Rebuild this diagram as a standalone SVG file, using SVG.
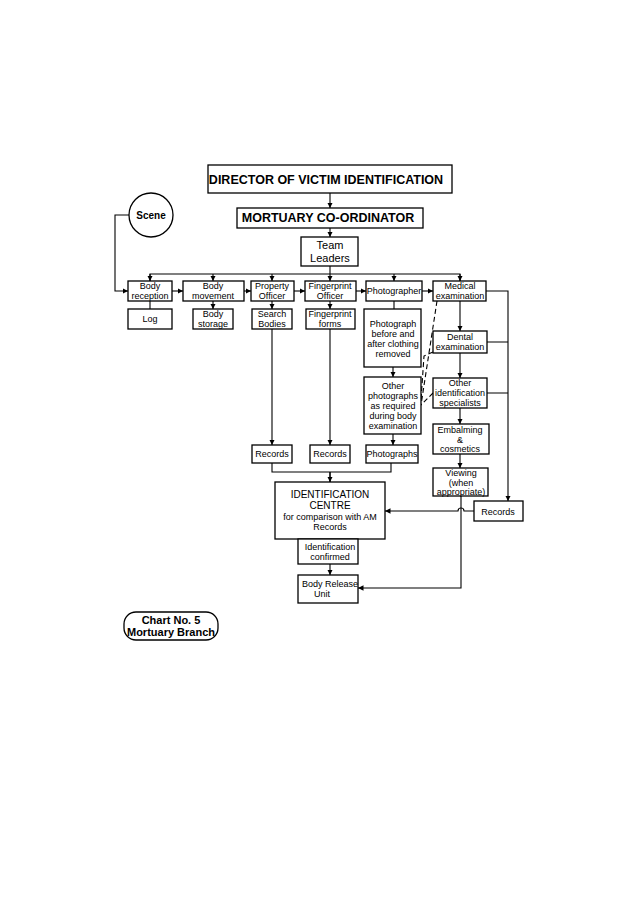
<svg xmlns="http://www.w3.org/2000/svg" width="638" height="903" viewBox="0 0 638 903">
<style>
rect,circle{fill:#fff;stroke:#000;stroke-width:1.3}
text{font-family:"Liberation Sans",Arial,sans-serif;font-size:9px;text-anchor:middle}
.b{font-weight:bold}
#c path,#c line{fill:none;stroke:#000;stroke-width:1.1}
.d{stroke-dasharray:5,3}
</style>
<defs><marker id="a" viewBox="0 0 6 6" refX="6" refY="3" markerWidth="5" markerHeight="5" orient="auto"><path d="M0,0L6,3L0,6z"/></marker></defs>
<rect width="638" height="903" style="fill:#fff;stroke:none"/>
<g id="c" >
<line x1="330" y1="193" x2="330" y2="208" marker-start="url(#a)" marker-end="url(#a)"/>
<line x1="330" y1="228" x2="330" y2="237" marker-end="url(#a)"/>
<line x1="330" y1="266" x2="330" y2="281" marker-start="url(#a)" marker-end="url(#a)"/>
<path d="M150,281V274H460V281"/>
<line x1="150" y1="274" x2="150" y2="281" marker-end="url(#a)"/>
<line x1="213" y1="274" x2="213" y2="281" marker-end="url(#a)"/>
<line x1="272" y1="274" x2="272" y2="281" marker-end="url(#a)"/>
<line x1="394" y1="274" x2="394" y2="281" marker-end="url(#a)"/>
<line x1="460" y1="274" x2="460" y2="281" marker-end="url(#a)"/>
<path d="M129,215H115V291H128" marker-end="url(#a)"/>
<line x1="172" y1="291" x2="183" y2="291" marker-end="url(#a)"/>
<line x1="244" y1="291" x2="251" y2="291" marker-end="url(#a)"/>
<line x1="294" y1="291" x2="305" y2="291" marker-end="url(#a)"/>
<line x1="356" y1="291" x2="366" y2="291" marker-end="url(#a)"/>
<line x1="422" y1="291" x2="433" y2="291" marker-end="url(#a)"/>
<line x1="150" y1="301" x2="150" y2="309"/>
<line x1="213" y1="301" x2="213" y2="309" marker-start="url(#a)" marker-end="url(#a)"/>
<line x1="272" y1="301" x2="272" y2="309" marker-start="url(#a)" marker-end="url(#a)"/>
<line x1="330" y1="301" x2="330" y2="309" marker-end="url(#a)"/>
<line x1="394" y1="301" x2="394" y2="309" marker-start="url(#a)"/>
<line x1="272" y1="329" x2="272" y2="445" marker-end="url(#a)"/>
<line x1="330" y1="329" x2="330" y2="445" marker-end="url(#a)"/>
<line x1="393" y1="367" x2="393" y2="377" marker-end="url(#a)"/>
<line x1="393" y1="434" x2="393" y2="445" marker-end="url(#a)"/>
<path d="M272,463V472H391V463M330,472V482" />
<line x1="330" y1="472" x2="330" y2="482" marker-end="url(#a)"/>
<line x1="460" y1="301" x2="460" y2="331" marker-end="url(#a)"/>
<line x1="460" y1="353" x2="460" y2="378" marker-end="url(#a)"/>
<line x1="460" y1="408" x2="460" y2="424" marker-end="url(#a)"/>
<line x1="460" y1="454" x2="460" y2="468" marker-end="url(#a)"/>
<path d="M486,291H508V501" marker-end="url(#a)"/>
<path d="M487,342H508M487,393H508"/>
<path d="M474,511H464a3,3 0 0 0 -6,0H385" marker-end="url(#a)"/>
<path d="M461,496V588H358" marker-end="url(#a)"/>
<line x1="330" y1="564" x2="330" y2="575" marker-end="url(#a)"/>
<path class="d" d="M437,301L421,405"/>
<path class="d" d="M433,352L424,356L421,400"/>
<path class="d" d="M433,393L421,405"/>
</g>
<g id="director"><rect x="208" y="165" width="244" height="28"/><text class="b" x="326" y="184" style="font-size:12.5px">DIRECTOR OF VICTIM IDENTIFICATION</text></g>
<g id="coord"><rect x="237" y="208" width="186" height="20"/><text class="b" x="328" y="222" style="font-size:12.5px">MORTUARY CO-ORDINATOR</text></g>
<g id="team"><rect x="301" y="237" width="57" height="29"/><text x="330" y="249" style="font-size:11px">Team</text><text x="330" y="262" style="font-size:11px">Leaders</text></g>
<g id="scene"><circle cx="151" cy="215" r="22"/><text class="b" x="151" y="219" style="font-size:10px">Scene</text></g>
<g id="reception"><rect x="128" y="281" width="44" height="20"/><text x="150" y="289">Body</text><text x="150" y="299">reception</text></g>
<g id="movement"><rect x="183" y="281" width="61" height="20"/><text x="213" y="289">Body</text><text x="213" y="299">movement</text></g>
<g id="property"><rect x="251" y="281" width="43" height="20"/><text x="272" y="289">Property</text><text x="272" y="299">Officer</text></g>
<g id="fingerprint"><rect x="305" y="281" width="51" height="20"/><text x="330" y="289">Fingerprint</text><text x="330" y="299">Officer</text></g>
<g id="photographer"><rect x="366" y="281" width="56" height="20"/><text x="394" y="294">Photographer</text></g>
<g id="medical"><rect x="433" y="281" width="53" height="20"/><text x="460" y="289">Medical</text><text x="460" y="299">examination</text></g>
<g id="log"><rect x="128" y="309" width="44" height="20"/><text x="150" y="322">Log</text></g>
<g id="storage"><rect x="193" y="309" width="40" height="20"/><text x="213" y="317">Body</text><text x="213" y="327">storage</text></g>
<g id="search"><rect x="252" y="309" width="40" height="20"/><text x="272" y="317">Search</text><text x="272" y="327">Bodies</text></g>
<g id="fpforms"><rect x="306" y="309" width="49" height="20"/><text x="330" y="317">Fingerprint</text><text x="330" y="327">forms</text></g>
<g id="photo1"><rect x="364" y="309" width="57" height="58"/><text x="393" y="327">Photograph</text><text x="393" y="337">before and</text><text x="393" y="347">after clothing</text><text x="393" y="357">removed</text></g>
<g id="photo2"><rect x="364" y="377" width="57" height="57"/><text x="393" y="389">Other</text><text x="393" y="399">photographs</text><text x="393" y="409">as required</text><text x="393" y="419">during body</text><text x="393" y="429">examination</text></g>
<g id="rec1"><rect x="252" y="445" width="40" height="18"/><text x="272" y="457">Records</text></g>
<g id="rec2"><rect x="310" y="445" width="40" height="18"/><text x="330" y="457">Records</text></g>
<g id="photos"><rect x="366" y="445" width="52" height="18"/><text x="392" y="457">Photographs</text></g>
<g id="dental"><rect x="433" y="331" width="54" height="22"/><text x="460" y="340">Dental</text><text x="460" y="350">examination</text></g>
<g id="otherid"><rect x="433" y="378" width="54" height="30"/><text x="460" y="386">Other</text><text x="460" y="396">identification</text><text x="460" y="406">specialists</text></g>
<g id="embalm"><rect x="433" y="424" width="56" height="30"/><text x="460" y="433">Embalming</text><text x="460" y="443">&amp;</text><text x="460" y="452">cosmetics</text></g>
<g id="viewing"><rect x="433" y="468" width="55" height="28"/><text x="461" y="476">Viewing</text><text x="461" y="486">(when</text><text x="461" y="495">appropriate)</text></g>
<g id="rec3"><rect x="474" y="501" width="49" height="20"/><text x="498" y="515">Records</text></g>
<g id="idcentre"><rect x="275" y="482" width="110" height="57"/><text x="330" y="498" style="font-size:10px">IDENTIFICATION</text><text x="330" y="509" style="font-size:10px">CENTRE</text><text x="330" y="520">for comparison with AM</text><text x="330" y="530">Records</text></g>
<g id="confirmed"><rect x="298" y="539" width="60" height="25"/><text x="330" y="550">Identification</text><text x="330" y="560">confirmed</text></g>
<g id="release"><rect x="298" y="575" width="60" height="28"/><text x="330" y="587">Body Release</text><text x="322" y="597">Unit</text></g>
<g id="chart"><rect x="124" y="612" width="94" height="28" rx="12"/><text class="b" x="171" y="624" style="font-size:11px">Chart No. 5</text><text class="b" x="171" y="636" style="font-size:11px">Mortuary Branch</text></g>
</svg>
